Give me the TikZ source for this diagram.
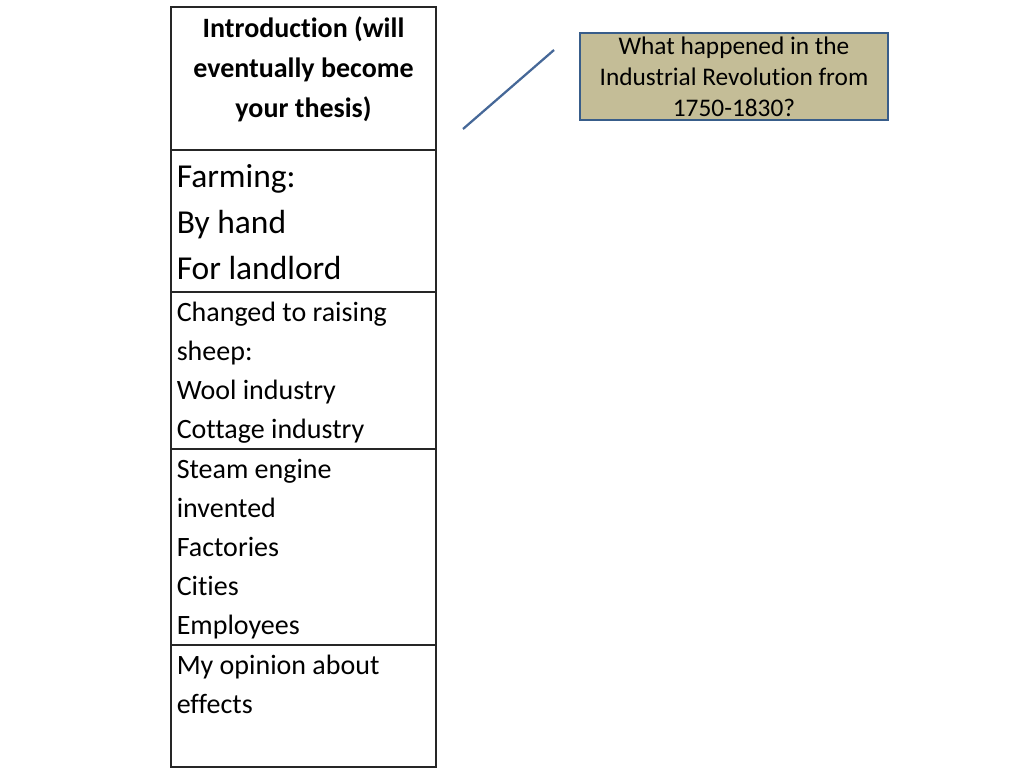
\documentclass[tikz,border=0pt]{standalone}
\usepackage{fontspec}
\setmainfont{Carlito}[Ligatures={NoCommon}]
\usetikzlibrary{positioning}

\definecolor{calloutfill}{RGB}{196,189,151}
\definecolor{calloutline}{RGB}{56,93,138}
\definecolor{linkblue}{RGB}{70,104,152}

\begin{document}
\begin{tikzpicture}[
  x=0.75pt, y=-0.75pt,
  node distance=0pt,
  cell/.style={draw=black!85, line width=1.1pt, minimum width=198.75pt, inner sep=0pt, outer sep=0pt},
  headtext/.style={anchor=north, inner sep=0pt, align=center, font=\fontsize{21}{30}\selectfont\bfseries},
  bigtext/.style={anchor=north west, inner sep=0pt, align=left, font=\fontsize{25.1}{34.5}\selectfont},
  celltext/.style={anchor=north west, inner sep=0pt, align=left, font=\fontsize{21}{29.3}\selectfont},
  callout/.style={draw=calloutline, line width=1.7pt, fill=calloutfill, minimum width=231pt, minimum height=65.25pt, inner sep=0pt, align=center, font=\fontsize{19}{23.25}\selectfont},
  link/.style={draw=linkblue, line width=1.7pt}
]
  \useasboundingbox (0,0) rectangle (1024,768);

  % table rows
  \node[cell, minimum height=107.25pt, anchor=north west] (intro) at (171,7) {};
  \node[cell, minimum height=106.5pt, below=of intro] (farming) {};
  \node[cell, minimum height=117.75pt, below=of farming] (sheep) {};
  \node[cell, minimum height=147pt, below=of sheep] (steam) {};
  \node[cell, minimum height=91.5pt, below=of steam] (opinion) {};

  % cell texts
  \node[headtext] (introtxt) at ([shift={(0,9)}]intro.north) {Introduction (will\\eventually become\\your thesis)};
  \node[bigtext] (farmingtxt) at ([shift={(5.5,14.5)}]farming.north west) {Farming:\\By hand\\For landlord};
  \node[celltext] (sheeptxt) at ([shift={(5.5,10)}]sheep.north west) {Changed to raising\\sheep:\\Wool industry\\Cottage industry};
  \node[celltext] (steamtxt) at ([shift={(5.5,10)}]steam.north west) {Steam engine\\invented\\Factories\\Cities\\Employees};
  \node[celltext] (opiniontxt) at ([shift={(5.5,9.5)}]opinion.north west) {My opinion about\\effects};

  % question box and pointer
  \node[callout] (question) at (734,76.5) {What happened in the\\Industrial Revolution from\\1750-1830?};
  \coordinate (linkfoot) at (463,129);
  \coordinate (linkhead) at (554,50);
  \draw[link] (linkfoot) -- (linkhead);
\end{tikzpicture}
\end{document}
